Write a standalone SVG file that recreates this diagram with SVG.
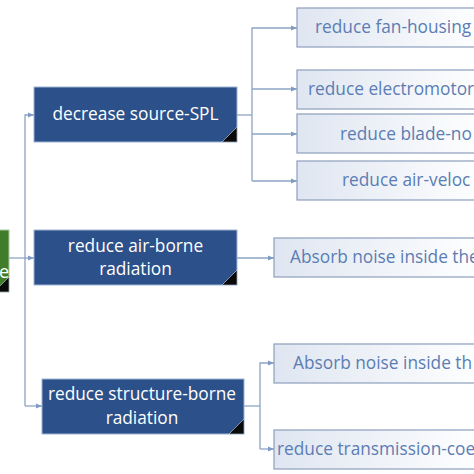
<svg xmlns="http://www.w3.org/2000/svg" width="474" height="474" viewBox="0 0 474 474">
<defs>
<linearGradient id="lg" x1="0" y1="0" x2="1" y2="0">
<stop offset="0" stop-color="#dfe6f1"/>
<stop offset="1" stop-color="#ffffff"/>
</linearGradient>
<marker id="ah" markerUnits="userSpaceOnUse" markerWidth="7" markerHeight="6" refX="6" refY="3" orient="auto">
<path d="M0,0.6 L6,3 L0,5.4 Z" fill="#7f9bc4"/>
</marker>
<style>
.dark{fill:#2c5089;stroke:#9db3d6;stroke-width:1}
.green{fill:#407d2b;stroke:#a9c7a0;stroke-width:1}
.corner{fill:#0a0a0a;stroke:#c8d3e4;stroke-width:0.6}
.light{fill:url(#lg);stroke:#8c9fbc;stroke-width:1.2}
.wt{font-family:"Open Sans","Liberation Sans",sans-serif;font-size:17.3px;fill:#ffffff;text-anchor:middle}
.lt{font-family:"Open Sans","Liberation Sans",sans-serif;font-size:17.3px;fill:#5b7db3}
.con path{fill:none;stroke:#8da4c4;stroke-width:1.3}
</style>
</defs>
<rect width="474" height="474" fill="#ffffff"/>

<g class="con">
<path d="M9,258 H34" marker-end="url(#ah)"/>
<path d="M25,406 V115 H34" marker-end="url(#ah)"/>
<path d="M25,406 H42" marker-end="url(#ah)"/>
<path d="M237,115 H252"/>
<path d="M252,181 V28 H297" marker-end="url(#ah)"/>
<path d="M252,89 H297" marker-end="url(#ah)"/>
<path d="M252,134 H297" marker-end="url(#ah)"/>
<path d="M252,181 H297" marker-end="url(#ah)"/>
<path d="M237,258 H274" marker-end="url(#ah)"/>
<path d="M244,406 H260"/>
<path d="M260,449 V363 H274" marker-end="url(#ah)"/>
<path d="M260,449 H274" marker-end="url(#ah)"/>
</g>

<g id="root">
<rect class="green" x="-3" y="230" width="12" height="62"/>
<polygon class="corner" points="-6,292 9,292 9,277"/>
<text x="-1" y="278" font-family="Open Sans, Liberation Sans, sans-serif" font-size="18" fill="#ffffff">e</text>
</g>

<g id="decrease-source">
<rect class="dark" x="34" y="87" width="203" height="55"/>
<polygon class="corner" points="222,142 237,142 237,127"/>
<text class="wt" x="135.5" y="120">decrease source-SPL</text>
</g>

<g id="air-borne">
<rect class="dark" x="34" y="230" width="203" height="55"/>
<polygon class="corner" points="222,285 237,285 237,270"/>
<text class="wt" x="135.5" y="252">reduce air-borne</text>
<text class="wt" x="135.5" y="275">radiation</text>
</g>

<g id="structure-borne">
<rect class="dark" x="42" y="379" width="202" height="55"/>
<polygon class="corner" points="229,434 244,434 244,419"/>
<text class="wt" x="142" y="400">reduce structure-borne</text>
<text class="wt" x="142" y="424">radiation</text>
</g>

<g id="fan-housing">
<rect class="light" x="297" y="8" width="190" height="39"/>
<text class="lt" x="315" y="33">reduce fan-housing</text>
</g>

<g id="electromotor">
<rect class="light" x="297" y="70" width="190" height="39"/>
<text class="lt" x="308" y="95">reduce electromotor</text>
</g>

<g id="blade-noise">
<rect class="light" x="297" y="114" width="190" height="39"/>
<text class="lt" x="340" y="140">reduce blade-no</text>
</g>

<g id="air-velocity">
<rect class="light" x="297" y="161" width="190" height="39"/>
<text class="lt" x="342" y="186">reduce air-veloc</text>
</g>

<g id="absorb-1">
<rect class="light" x="274" y="238" width="210" height="39"/>
<text class="lt" x="290" y="263">Absorb noise inside the</text>
</g>

<g id="absorb-2">
<rect class="light" x="274" y="344" width="210" height="39"/>
<text class="lt" x="293" y="369">Absorb noise inside th</text>
</g>

<g id="transmission">
<rect class="light" x="274" y="430" width="210" height="39"/>
<text class="lt" x="277" y="455">reduce transmission-coe</text>
</g>
</svg>
